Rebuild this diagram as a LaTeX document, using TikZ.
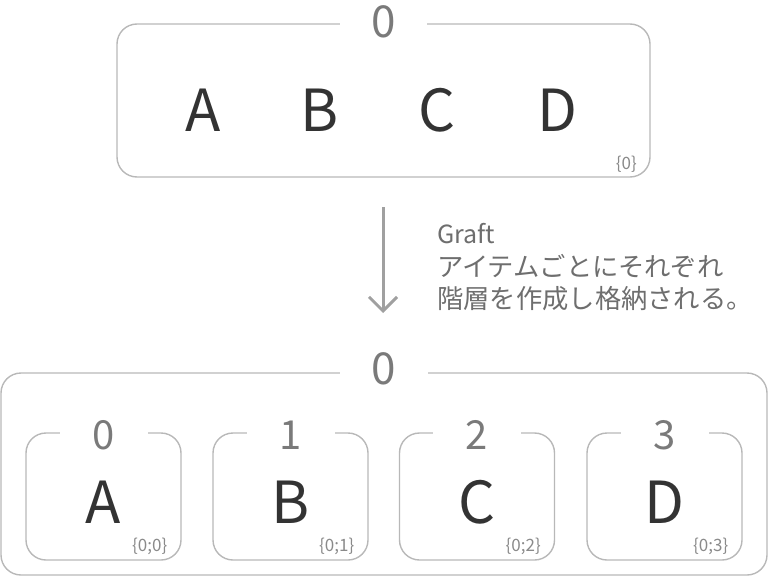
\documentclass[tikz,border=0pt]{standalone}
\usepackage{fontspec}
\setmainfont{Noto Sans CJK JP}
\usetikzlibrary{arrows.meta}
\definecolor{boxgray}{HTML}{B8B8B8}
\definecolor{numgray}{HTML}{7A7A7A}
\definecolor{letdark}{HTML}{333333}
\definecolor{smallgray}{HTML}{8A8A8A}
\definecolor{arrgray}{HTML}{A0A0A0}
\definecolor{txtgray}{HTML}{6E6E6E}
\begin{document}
\begin{tikzpicture}[x=1pt,y=-1pt,
  frame/.style={draw=boxgray,line width=1.4pt,rounded corners=20pt,inner sep=0pt},
  bignum/.style={fill=white,text=numgray,font=\fontsize{44}{44}\selectfont,inner sep=0pt,minimum height=12pt},
  smallnum/.style={fill=white,text=numgray,font=\fontsize{40}{40}\selectfont,inner sep=0pt,minimum height=12pt},
  letter/.style={text=letdark,font=\fontsize{58}{58}\selectfont,inner sep=0pt},
  tag/.style={text=smallgray,font=\fontsize{17}{17}\selectfont,inner sep=0pt,anchor=base east},
  note/.style={text=txtgray,anchor=base west,inner sep=0pt}
]
\useasboundingbox (0,0) rectangle (768,578);
% top box
\node[frame,minimum width=533pt,minimum height=153pt] (top) at (383.5,100.5) {};
\node[bignum,minimum width=87pt] (topnum) at (383.5,22) {0};
\node[letter] (tA) at (203,110) {A};
\node[letter] (tB) at (320,110) {B};
\node[letter] (tC) at (437,110) {C};
\node[letter] (tD) at (557,110) {D};
\node[tag] (ttag) at (637,169) {\{0\}};
% arrow
\coordinate (arrS) at (383,207);
\coordinate (arrE) at (383,313);
\draw[arrgray,line width=3pt,-{Straight Barb[length=14pt,width=28pt,line width=3pt]}] (arrS) -- (arrE);
\node[note,font=\fontsize{25}{25}\selectfont] (graft) at (437,243) {Graft};
\node[note,font=\fontsize{26.3}{26}\selectfont] (jp1) at (437,276) {アイテムごとにそれぞれ};
\node[note,font=\fontsize{26.3}{26}\selectfont] (jp2) at (437,308) {階層を作成し格納される。};
% bottom box
\node[frame,minimum width=766pt,minimum height=202pt] (bot) at (384,474) {};
\node[bignum,minimum width=88pt] (botnum) at (384,369) {0};
\foreach \i/\cx/\L in {0/103.5/A,1/290.5/B,2/477/C,3/664.5/D}{
  \node[frame,minimum width=155pt,minimum height=127pt] (b\i) at (\cx,496.5) {};
  \node[smallnum,minimum width=88pt] (n\i) at (\cx,435) {\i};
  \node[letter] (l\i) at (\cx,502) {\L};
  \node[tag] (g\i) at (\cx+64,551) {\{0;\i\}};
}
\end{tikzpicture}
\end{document}
